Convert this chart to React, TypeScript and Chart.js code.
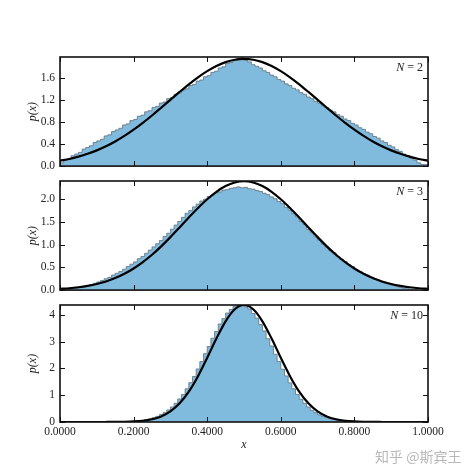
import React, { useEffect, useRef } from 'react';
import { Chart, registerables } from 'chart.js';

Chart.register(...registerables);

// ---------------- data ----------------
const X_TICKS = [0, 0.2, 0.4, 0.6, 0.8, 1.0];
const BIN_WIDTH = 0.01;
const CURVE_STEP = 0.025;

// histogram densities, 100 bins on [0, 1]
const HIST_N2 = [
  0.03, 0.06, 0.11, 0.13, 0.19, 0.22, 0.25, 0.31, 0.34, 0.37,
  0.43, 0.46, 0.49, 0.55, 0.57, 0.63, 0.66, 0.69, 0.75, 0.77,
  0.83, 0.85, 0.91, 0.93, 0.99, 1.01, 1.07, 1.09, 1.15, 1.17,
  1.23, 1.25, 1.31, 1.33, 1.39, 1.41, 1.47, 1.49, 1.55, 1.57,
  1.63, 1.65, 1.71, 1.73, 1.79, 1.81, 1.87, 1.89, 1.93, 1.96,
  1.97, 1.93, 1.90, 1.85, 1.82, 1.79, 1.74, 1.71, 1.66, 1.63,
  1.58, 1.55, 1.50, 1.47, 1.42, 1.39, 1.34, 1.31, 1.26, 1.23,
  1.18, 1.15, 1.10, 1.07, 1.02, 0.99, 0.94, 0.91, 0.86, 0.83,
  0.78, 0.75, 0.70, 0.67, 0.62, 0.59, 0.54, 0.51, 0.46, 0.43,
  0.38, 0.35, 0.30, 0.27, 0.22, 0.19, 0.14, 0.11, 0.06, 0.03,
];

const HIST_N3 = [
  0.00, 0.00, 0.01, 0.02, 0.03, 0.04, 0.06, 0.08, 0.10, 0.12,
  0.15, 0.18, 0.21, 0.25, 0.28, 0.33, 0.37, 0.41, 0.46, 0.52,
  0.57, 0.62, 0.69, 0.74, 0.81, 0.88, 0.95, 1.02, 1.09, 1.18,
  1.25, 1.34, 1.43, 1.51, 1.60, 1.69, 1.75, 1.83, 1.89, 1.96,
  2.00, 2.06, 2.09, 2.14, 2.16, 2.20, 2.21, 2.24, 2.25, 2.27,
  2.25, 2.26, 2.23, 2.22, 2.19, 2.17, 2.13, 2.10, 2.05, 2.01,
  1.95, 1.90, 1.82, 1.76, 1.68, 1.61, 1.51, 1.44, 1.33, 1.26,
  1.17, 1.10, 1.01, 0.95, 0.87, 0.82, 0.74, 0.68, 0.63, 0.56,
  0.52, 0.45, 0.41, 0.36, 0.33, 0.28, 0.24, 0.22, 0.18, 0.15,
  0.12, 0.10, 0.08, 0.06, 0.04, 0.03, 0.02, 0.01, 0.00, 0.00,
];

const HIST_N10 = [
  0, 0, 0, 0, 0, 0, 0, 0, 0, 0,
  0, 0, 0, 0, 0.001, 0.002, 0.004, 0.007, 0.010, 0.015,
  0.02, 0.03, 0.05, 0.06, 0.09, 0.12, 0.16, 0.21, 0.28, 0.35,
  0.45, 0.56, 0.70, 0.86, 1.03, 1.24, 1.47, 1.70, 1.98, 2.26,
  2.55, 2.82, 3.13, 3.38, 3.66, 3.86, 4.07, 4.20, 4.32, 4.35,
  4.37, 4.30, 4.22, 4.05, 3.88, 3.64, 3.40, 3.11, 2.84, 2.53,
  2.26, 1.97, 1.72, 1.46, 1.24, 1.03, 0.85, 0.70, 0.56, 0.44,
  0.35, 0.27, 0.21, 0.16, 0.12, 0.09, 0.06, 0.05, 0.03, 0.02,
  0.015, 0.010, 0.007, 0.004, 0.002, 0.001, 0, 0, 0, 0,
  0, 0, 0, 0, 0, 0, 0, 0, 0, 0,
];

// fitted Gaussian curves, sampled every 0.025 on [0, 1]
const CURVE_N2 = [
  0.097, 0.130, 0.172, 0.224, 0.287, 0.362, 0.449, 0.550, 0.664, 0.789,
  0.923, 1.065, 1.209, 1.353, 1.492, 1.620, 1.733, 1.827, 1.897, 1.940,
  1.954,
  1.940, 1.897, 1.827, 1.733, 1.620, 1.492, 1.353, 1.209, 1.065, 0.923,
  0.789, 0.664, 0.550, 0.449, 0.362, 0.287, 0.224, 0.172, 0.130, 0.097,
];
const CURVE_N3 = [
  0.027, 0.041, 0.063, 0.093, 0.134, 0.190, 0.264, 0.358, 0.474, 0.614,
  0.777, 0.962, 1.165, 1.379, 1.597, 1.807, 1.999, 2.163, 2.288, 2.367,
  2.394,
  2.367, 2.288, 2.163, 1.999, 1.807, 1.597, 1.379, 1.165, 0.962, 0.777,
  0.614, 0.474, 0.358, 0.264, 0.190, 0.134, 0.093, 0.063, 0.041, 0.027,
];
const CURVE_N10 = [
  0, 0, 0, 0, 0.0003, 0.0009, 0.0028, 0.0077, 0.0197, 0.0468,
  0.1028, 0.2096, 0.3965, 0.6957, 1.1329, 1.7115, 2.3984, 3.1184, 3.7615, 4.2094,
  4.3702,
  4.2094, 3.7615, 3.1184, 2.3984, 1.7115, 1.1329, 0.6957, 0.3965, 0.2096, 0.1028,
  0.0468, 0.0197, 0.0077, 0.0028, 0.0009, 0.0003, 0, 0, 0, 0,
];

const Y_TICKS_N2 = [0, 0.4, 0.8, 1.2, 1.6];
const Y_TICKS_N3 = [0, 0.5, 1.0, 1.5, 2.0];
const Y_TICKS_N10 = [0, 1, 2, 3, 4];
const Y_MAX_N2 = 1.99;
const Y_MAX_N3 = 2.4;
const Y_MAX_N10 = 4.37;
const LABELS = ['2', '3', '10'];

// ---------------- layout / style ----------------
const W = 475;
const SERIF = "'Liberation Serif', 'DejaVu Serif', serif";
const FILL = '#80bbde';

type Panel = {
  hist: number[];
  curve: number[];
  ticks: number[];
  max: number;
  decimals: number;
  label: string;
  top: number; // plot-area top (page px)
  height: number; // plot-area height
  bottom: boolean;
};

const PANELS: Panel[] = [
  { hist: HIST_N2, curve: CURVE_N2, ticks: Y_TICKS_N2, max: Y_MAX_N2, decimals: 1, label: LABELS[0], top: 57, height: 118, bottom: false },
  { hist: HIST_N3, curve: CURVE_N3, ticks: Y_TICKS_N3, max: Y_MAX_N3, decimals: 1, label: LABELS[1], top: 181, height: 118, bottom: false },
  { hist: HIST_N10, curve: CURVE_N10, ticks: Y_TICKS_N10, max: Y_MAX_N10, decimals: 0, label: LABELS[2], top: 305, height: 117, bottom: true },
];

const PAD_TOP = 20;
const PAD_LEFT = 26;
const PAD_RIGHT = 47;
const Y_AXIS_W = 34;
const BOTTOM_EXTRA = 53;

const framePlugin = {
  id: 'frame',
  afterDatasetsDraw(chart: any, _args: any, opts: any) {
    const { ctx, chartArea, scales } = chart;
    const { left, right, top, bottom } = chartArea;
    const x = scales.x;
    const y = scales.y;
    ctx.save();
    ctx.strokeStyle = '#111';
    ctx.lineWidth = 1;
    ctx.beginPath();
    for (const v of X_TICKS) {
      const px = Math.round(x.getPixelForValue(v)) + 0.5;
      ctx.moveTo(px, bottom);
      ctx.lineTo(px, bottom - 5);
      ctx.moveTo(px, top);
      ctx.lineTo(px, top + 5);
    }
    for (const t of y.ticks) {
      const py = Math.round(y.getPixelForValue(t.value)) + 0.5;
      ctx.moveTo(left, py);
      ctx.lineTo(left + 5, py);
      ctx.moveTo(right, py);
      ctx.lineTo(right - 5, py);
    }
    ctx.stroke();
    ctx.lineWidth = 1.6;
    ctx.strokeRect(left, top, right - left, bottom - top);

    // "N = k" annotation
    const italic = `italic 12px ${SERIF}`;
    const normal = `12px ${SERIF}`;
    const rest = ' = ' + opts.label;
    ctx.fillStyle = '#222';
    ctx.textBaseline = 'middle';
    ctx.textAlign = 'left';
    ctx.font = normal;
    const wRest = ctx.measureText(rest).width;
    ctx.font = italic;
    const wN = ctx.measureText('N').width;
    const xEnd = right - 5;
    const yMid = top + 11;
    ctx.fillText('N', xEnd - wRest - wN, yMid);
    ctx.font = normal;
    ctx.fillText(rest, xEnd - wRest, yMid);
    ctx.restore();
  },
};

function PanelChart({ panel }: { panel: Panel }) {
  const ref = useRef<HTMLCanvasElement | null>(null);
  const canvasH = PAD_TOP + panel.height + (panel.bottom ? BOTTOM_EXTRA : 3);

  useEffect(() => {
    if (!ref.current) return;
    const edges = panel.hist.map((_, i) => i * BIN_WIDTH);
    const histPts = panel.hist.map((v, i) => ({ x: edges[i], y: v }));
    histPts.push({ x: panel.hist.length * BIN_WIDTH, y: panel.hist[panel.hist.length - 1] });
    const curvePts = panel.curve.map((v, i) => ({ x: i * CURVE_STEP, y: v }));

    const chart = new Chart(ref.current, {
      type: 'line',
      data: {
        datasets: [
          {
            data: curvePts,
            fill: false,
            borderColor: '#000',
            borderWidth: 2.2,
            pointRadius: 0,
            cubicInterpolationMode: 'monotone',
            order: 0,
          },
          {
            data: histPts,
            stepped: 'after',
            fill: 'origin',
            backgroundColor: FILL,
            borderColor: 'rgba(100,118,132,0.85)',
            borderWidth: 1,
            pointRadius: 0,
            order: 1,
          },
        ],
      },
      options: {
        animation: false,
        responsive: false,
        devicePixelRatio: 1,
        events: [],
        layout: { padding: { top: PAD_TOP, left: PAD_LEFT, right: PAD_RIGHT, bottom: panel.bottom ? 0 : 3 } },
        plugins: {
          legend: { display: false },
          tooltip: { enabled: false },
          frame: { label: panel.label },
        } as any,
        scales: {
          x: {
            type: 'linear',
            min: 0,
            max: 1,
            grid: { display: false, drawTicks: false },
            border: { display: false },
            afterBuildTicks: (s: any) => {
              s.ticks = X_TICKS.map((v) => ({ value: v }));
            },
            afterFit: (s: any) => {
              s.height = panel.bottom ? BOTTOM_EXTRA : 0;
            },
            ticks: {
              display: panel.bottom,
              maxRotation: 0,
              autoSkip: false,
              padding: 3,
              color: '#222',
              font: { family: SERIF, size: 11.5 },
              callback: (v: any) => Number(v).toFixed(4),
            },
            title: {
              display: panel.bottom,
              text: 'x',
              color: '#222',
              font: { family: SERIF, size: 12, style: 'italic' },
              padding: { top: 0, bottom: 23 },
            },
          },
          y: {
            min: 0,
            max: panel.max,
            grid: { display: false, drawTicks: false },
            border: { display: false },
            afterBuildTicks: (s: any) => {
              s.ticks = panel.ticks.map((v) => ({ value: v }));
            },
            afterFit: (s: any) => {
              s.width = Y_AXIS_W;
            },
            ticks: {
              padding: 5,
              color: '#222',
              font: { family: SERIF, size: 11.5 },
              callback: (v: any) => Number(v).toFixed(panel.decimals),
            },
            title: {
              display: true,
              text: 'p(x)',
              color: '#222',
              font: { family: SERIF, size: 12, style: 'italic' },
              padding: { top: 0, bottom: 0 },
            },
          },
        },
      },
      plugins: [framePlugin],
    } as any);
    return () => chart.destroy();
  }, [panel]);

  return (
    <canvas
      ref={ref}
      width={W}
      height={canvasH}
      style={{ position: 'absolute', left: 0, top: panel.top - PAD_TOP, width: W, height: canvasH }}
    />
  );
}

export default function App() {
  return (
    <div style={{ position: 'fixed', left: 0, top: 0, width: W, height: W, background: '#fff', overflow: 'hidden' }}>
      {PANELS.map((p, i) => (
        <PanelChart key={i} panel={p} />
      ))}
      <div
        style={{
          position: 'absolute',
          left: 375,
          top: 446,
          fontFamily: "'Noto Sans CJK SC', sans-serif",
          fontSize: 14,
          color: '#b8b8b8',
          whiteSpace: 'nowrap',
        }}
      >
        知乎 @斯宾王
      </div>
    </div>
  );
}
